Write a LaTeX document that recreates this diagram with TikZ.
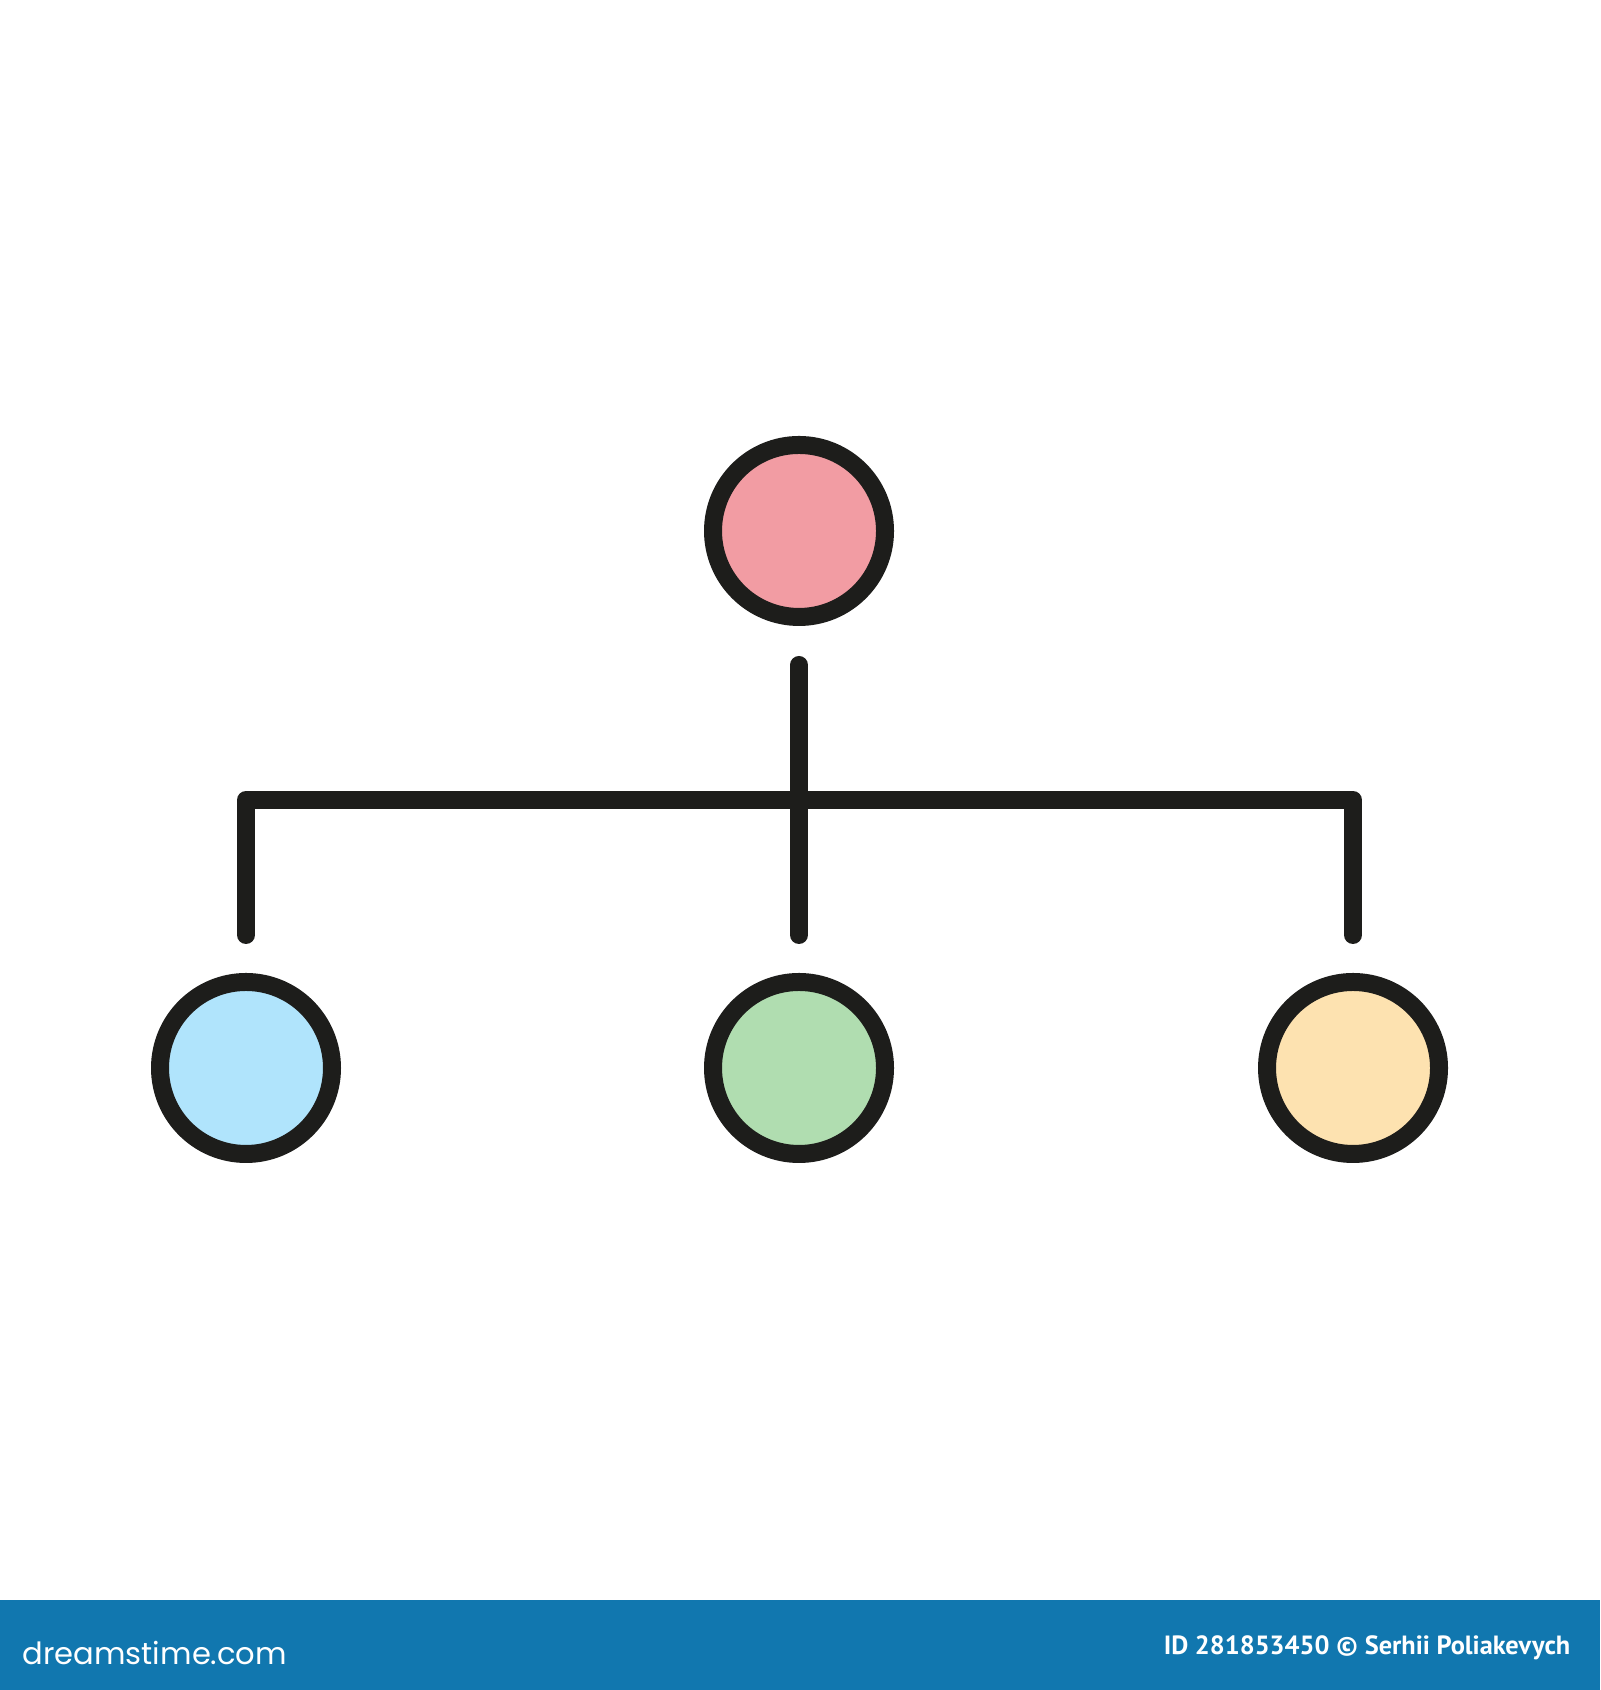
\documentclass[tikz,border=0pt]{standalone}
\usepackage{fontspec}
\setmainfont{PT Sans}
\newfontfamily\logofont{Poppins}
\usepackage{tikz}
\definecolor{inkblack}{HTML}{1D1D1B}
\definecolor{rootpink}{HTML}{F29CA3}
\definecolor{kidblue}{HTML}{B0E4FC}
\definecolor{kidgreen}{HTML}{B0DDB0}
\definecolor{kidyellow}{HTML}{FDE2B0}
\definecolor{bannerblue}{HTML}{1177AF}

\begin{document}
\begin{tikzpicture}[
		dot/.style={circle,draw=inkblack,line width=0.18cm,minimum size=1.72cm,inner sep=0pt},
		wire/.style={draw=inkblack,line width=0.18cm,line cap=round,line join=round}]
			\useasboundingbox (0,0) rectangle (16,16.9);
			\fill[white] (0,0) rectangle (16,16.9);
			% org chart
			\node[dot,fill=rootpink] (top) at (7.99,11.59) {};
			\node[dot,fill=kidblue] (left) at (2.46,6.22) {};
			\node[dot,fill=kidgreen] (mid) at (7.99,6.22) {};
			\node[dot,fill=kidyellow] (right) at (13.53,6.22) {};
			\draw[wire] ([yshift=-0.39cm]top.south) -- ([yshift=0.38cm]mid.north);
			\draw[wire] ([yshift=0.38cm]left.north) -- ++(0,1.35) -| ([yshift=0.38cm]right.north);
			% banner
			\fill[bannerblue] (0,0) rectangle (16,0.9);
			\node[anchor=base west,inner sep=0pt,text=white,font=\logofont\fontsize{8.7}{10}\selectfont] (logo) at (0.22,0.26) {dreamstime.com};
			\node[anchor=base east,inner sep=0pt,text=white,font=\bfseries\fontsize{7.5}{9}\selectfont] (credit) at (15.71,0.35) {ID 281853450 © Serhii Poliakevych};
		\end{tikzpicture}
\end{document}
